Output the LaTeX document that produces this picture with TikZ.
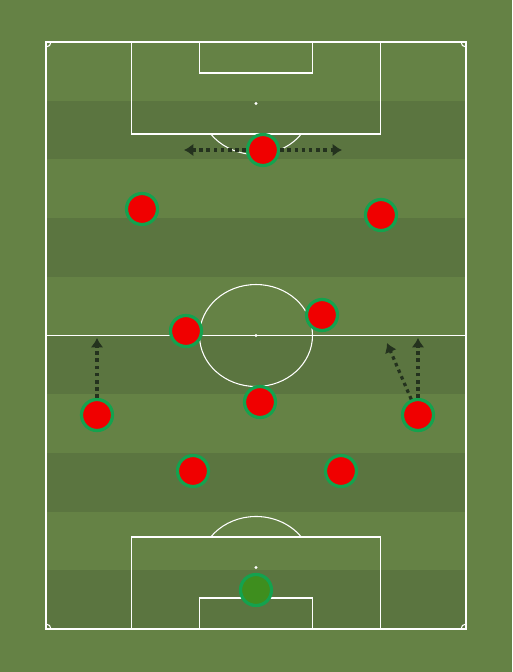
\documentclass[tikz,border=0pt]{standalone}
\usetikzlibrary{arrows.meta,shadows}
\definecolor{pitch_green}{RGB}{101,130,69}
\definecolor{stripe_green}{RGB}{91,117,64}
\definecolor{ring_green}{RGB}{20,162,78}
\definecolor{shirt_red}{RGB}{240,0,0}
\definecolor{keeper_green}{RGB}{62,142,30}
\definecolor{arrow_dark}{RGB}{36,50,30}

\begin{document}
\begin{tikzpicture}[x=0.75pt,y=-0.75pt,
	pitchline/.style={white,line width=0.8pt},
	player/.style={circle,draw=ring_green,line width=2.4pt,fill=shirt_red,minimum size=23.25pt,inner sep=0pt,
		drop shadow={shadow xshift=0.6pt,shadow yshift=-0.6pt,opacity=0.25}},
	runarrow/.style={arrow_dark,line width=2.4pt,dash pattern=on 2.6pt off 2.8pt,-{Latex[length=7pt,width=9.5pt]}}]
	% grass
	\fill[pitch_green] (0,0) rectangle (512,672);
	\foreach \i in {1,3,5,7,9}
		\fill[stripe_green] (46,42+\i*58.7) rectangle (466,42+\i*58.7+58.7);
	
	% markings
	\draw[pitchline] (46,42) rectangle (466,629);
	\draw[pitchline] (46,335.5) -- (466,335.5);
	\draw[pitchline] (256,335.5) ellipse [x radius=56.5,y radius=51];
	\draw[pitchline] (131.5,42) rectangle (380.5,134);
	\draw[pitchline] (199.5,42) rectangle (312.5,73);
	\draw[pitchline] (301.3,134) arc[start angle=36.7,end angle=143.3,x radius=56.5,y radius=51];
	\draw[pitchline] (131.5,537) rectangle (380.5,629);
	\draw[pitchline] (199.5,598) rectangle (312.5,629);
	\draw[pitchline] (301.3,537) arc[start angle=-36.7,end angle=-143.3,x radius=56.5,y radius=51];
	\foreach \y in {103.5,335.5,567.5}
		\fill[white] (256,\y) circle (1.2pt);
	\draw[pitchline] (46,47) arc[start angle=90,end angle=0,radius=5];
	\draw[pitchline] (461,42) arc[start angle=180,end angle=90,radius=5];
	\draw[pitchline] (51,629) arc[start angle=0,end angle=-90,radius=5];
	\draw[pitchline] (466,624) arc[start angle=-90,end angle=-180,radius=5];
	
	% players
	\node[player,fill=keeper_green] (gk) at (256,590) {};
	\node[player] (lcb) at (193,471) {};
	\node[player] (rcb) at (341,471) {};
	\node[player] (lb) at (97,415) {};
	\node[player] (dm) at (260,402) {};
	\node[player] (rb) at (418,415) {};
	\node[player] (lcm) at (186,331) {};
	\node[player] (rcm) at (322,315) {};
	\node[player] (lw) at (142,209) {};
	\node[player] (rw) at (381,215) {};
	\node[player] (st) at (263,150) {};
	
	% runs
	\coordinate (stl) at (184,150);
	\coordinate (str) at (342,150);
	\coordinate (lbt) at (97,338);
	\coordinate (rbt) at (418,338);
	\coordinate (rbd) at (387,343);
	\foreach \a/\b in {st/stl,st/str,lb/lbt,rb/rbt,rb/rbd}
		\draw[runarrow] (\a) -- (\b);
\end{tikzpicture}
\end{document}
